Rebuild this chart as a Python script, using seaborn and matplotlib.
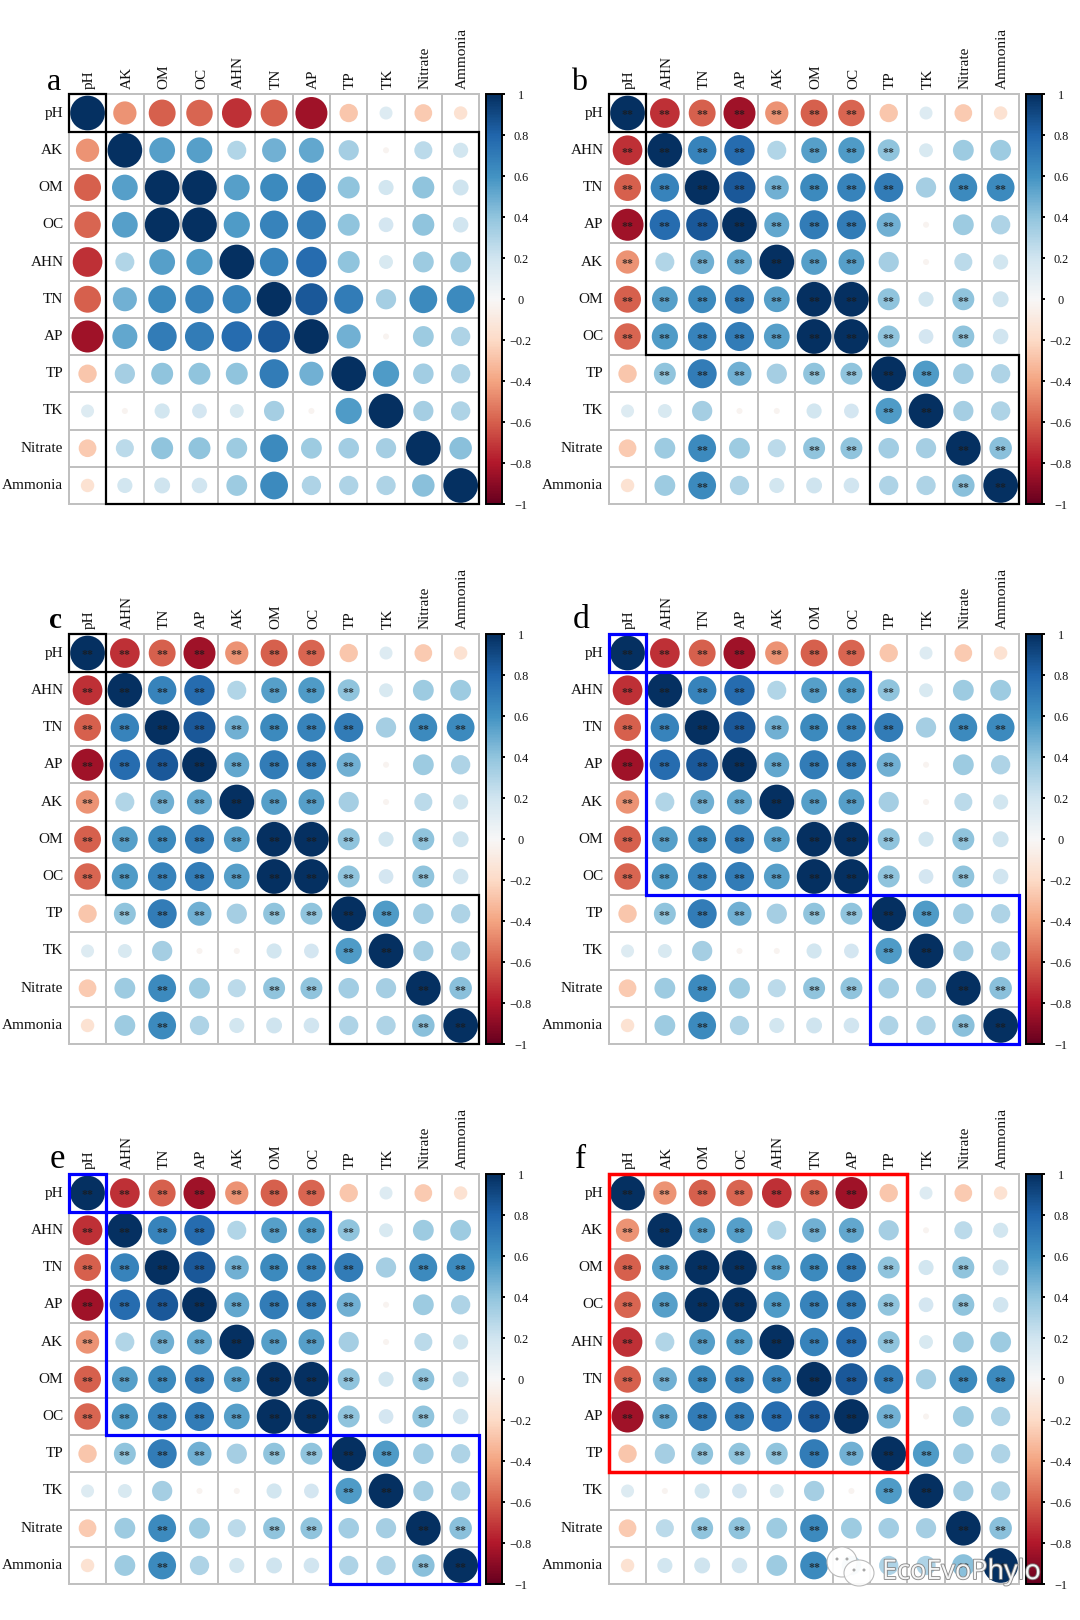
import numpy as np
import pandas as pd
import matplotlib
matplotlib.use('Agg')
import matplotlib.pyplot as plt
import matplotlib.patheffects as pe
from matplotlib import cm, colors
from matplotlib.patches import Rectangle, Ellipse
from matplotlib.transforms import ScaledTranslation
import seaborn as sns

sns.set_theme(style='white')
plt.rcParams['font.family'] = ['Liberation Serif', 'DejaVu Sans']

# 变量顺序
order_a = ['pH', 'AK', 'OM', 'OC', 'AHN', 'TN', 'AP', 'TP', 'TK', 'Nitrate', 'Ammonia']
order_b = ['pH', 'AHN', 'TN', 'AP', 'AK', 'OM', 'OC', 'TP', 'TK', 'Nitrate', 'Ammonia']

# correlation rows
r_pH = [1, -0.45, -0.60, -0.58, -0.73, -0.60, -0.85, -0.28, 0.14, -0.26, -0.15]
r_AK = [-0.45, 1, 0.55, 0.55, 0.30, 0.48, 0.52, 0.34, -0.03, 0.27, 0.19]
r_OM = [-0.60, 0.55, 1, 1, 0.55, 0.64, 0.70, 0.40, 0.19, 0.40, 0.21]
r_OC = [-0.58, 0.55, 1, 1, 0.57, 0.67, 0.70, 0.40, 0.18, 0.40, 0.20]
r_AHN = [-0.73, 0.30, 0.55, 0.57, 1, 0.67, 0.77, 0.40, 0.16, 0.36, 0.36]
r_TN = [-0.60, 0.48, 0.64, 0.67, 0.67, 1, 0.85, 0.70, 0.34, 0.64, 0.64]
r_AP = [-0.85, 0.52, 0.70, 0.70, 0.77, 0.85, 1, 0.48, -0.03, 0.36, 0.31]
r_TP = [-0.28, 0.34, 0.40, 0.40, 0.40, 0.70, 0.48, 1, 0.57, 0.35, 0.31]
r_TK = [0.14, -0.03, 0.19, 0.18, 0.16, 0.34, -0.03, 0.57, 1, 0.34, 0.31]
r_Nitrate = [-0.26, 0.27, 0.40, 0.40, 0.36, 0.64, 0.36, 0.35, 0.34, 1, 0.42]
r_Ammonia = [-0.15, 0.19, 0.21, 0.20, 0.36, 0.64, 0.31, 0.31, 0.31, 0.42, 1]

corr = pd.DataFrame([r_pH, r_AK, r_OM, r_OC, r_AHN, r_TN, r_AP, r_TP, r_TK, r_Nitrate, r_Ammonia],
                    index=order_a, columns=order_a)

# which cells carry **
sig_pH = ['pH', 'AK', 'OM', 'OC', 'AHN', 'TN', 'AP']
sig_AK = ['pH', 'AK', 'OM', 'OC', 'TN', 'AP']
sig_OM = ['pH', 'AK', 'OM', 'OC', 'AHN', 'TN', 'AP', 'TP', 'Nitrate']
sig_OC = ['pH', 'AK', 'OM', 'OC', 'AHN', 'TN', 'AP', 'TP', 'Nitrate']
sig_AHN = ['pH', 'OM', 'OC', 'AHN', 'TN', 'AP', 'TP']
sig_TN = ['pH', 'AK', 'OM', 'OC', 'AHN', 'TN', 'AP', 'TP', 'Nitrate', 'Ammonia']
sig_AP = ['pH', 'AK', 'OM', 'OC', 'AHN', 'TN', 'AP', 'TP']
sig_TP = ['OM', 'OC', 'AHN', 'TN', 'AP', 'TP', 'TK']
sig_TK = ['TP', 'TK']
sig_Nitrate = ['OM', 'OC', 'TN', 'Nitrate', 'Ammonia']
sig_Ammonia = ['TN', 'Nitrate', 'Ammonia']
sig = dict(zip(order_a, [sig_pH, sig_AK, sig_OM, sig_OC, sig_AHN, sig_TN, sig_AP,
                         sig_TP, sig_TK, sig_Nitrate, sig_Ammonia]))

cbar_ticks = [1, 0.8, 0.6, 0.4, 0.2, 0, -0.2, -0.4, -0.6, -0.8, -1]

# groups as (first cell, number of cells)
groups_a = [(0, 1), (1, 10)]
groups_b = [(0, 1), (1, 6), (7, 4)]
groups_f = [(0, 8)]

# letter, variable order, groups, box colour, box width, stars
panels = [
    ('a', order_a, groups_a, 'black', 1.6, False),
    ('b', order_b, groups_b, 'black', 1.6, True),
    ('c', order_b, groups_b, 'black', 1.6, True),
    ('d', order_b, groups_b, '#0000ff', 2.3, True),
    ('e', order_b, groups_b, '#0000ff', 2.3, True),
    ('f', order_a, groups_f, '#ff0000', 2.5, True),
]
# letter x, baseline y, size, weight inside a 540 px tile
letters = {'a': (47, 90, 23, 'normal'), 'b': (31, 90, 23, 'normal'), 'c': (49, 88, 21, 'bold'),
           'd': (33, 88, 24, 'normal'), 'e': (50, 88, 25, 'normal'), 'f': (35, 88, 24, 'normal')}

W, H = 1080, 1620
TILE = 540
GX0, GX1, GY0, GY1 = 68.9, 479.3, 94.4, 504.1
CX0, CX1 = 485.5, 502.0
S_MAX = 625  # area of a circle with |r| = 1, pt^2

cmap = sns.color_palette('RdBu', as_cmap=True)
white = colors.ListedColormap(['white'])
fig = plt.figure(figsize=(W / 100, H / 100), dpi=100)


def box(x0, x1, y0, y1):
    return [x0 / W, 1 - y1 / H, (x1 - x0) / W, (y1 - y0) / H]


for k, (letter, order, groups, box_col, box_lw, stars) in enumerate(panels):
    ox = TILE * (k % 2)
    oy = TILE * (k // 2)
    ax = fig.add_axes(box(ox + GX0, ox + GX1, oy + GY0, oy + GY1))

    sub = corr.loc[order, order]
    sns.heatmap(np.zeros(sub.shape), cmap=white, cbar=False, linewidths=1.1, linecolor='#c0c0c0', ax=ax)
    ax.collections[0].set_clip_on(False)

    long = sub.reset_index().melt(id_vars='index', var_name='col', value_name='r')
    long['x'] = long['col'].map(order.index) + 0.5
    long['y'] = long['index'].map(order.index) + 0.5
    long['size'] = long['r'].abs()
    sns.scatterplot(data=long, x='x', y='y', hue='r', size='size', hue_norm=(-1, 1), palette=cmap,
                    sizes=(0, S_MAX), size_norm=(0, 1), linewidth=0, legend=False, clip_on=False,
                    zorder=3, ax=ax)

    if stars:
        for row in order:
            for col in sig[row]:
                ax.annotate('**', (order.index(col) + 0.5, order.index(row) + 0.5), xytext=(0, -3.9),
                            textcoords='offset points', ha='center', va='baseline', fontsize=8.6,
                            fontweight='bold', color='#1a1a1a', alpha=0.8, zorder=4)

    for start, n in groups:
        ax.add_patch(Rectangle((start, start), n, n, fill=False, edgecolor=box_col, linewidth=box_lw,
                               joinstyle='miter', clip_on=False, zorder=5))

    ax.set_xlim(0, 11)
    ax.set_ylim(11, 0)
    ax.set_xlabel('')
    ax.set_ylabel('')
    ax.xaxis.tick_top()
    ax.set_xticks(np.arange(11) + 0.5, order, rotation=90, fontsize=11, color='#111111')
    ax.set_yticks(np.arange(11) + 0.5, order, rotation=0, fontsize=11, color='#111111')
    ax.tick_params(length=0, pad=4)
    # column labels sit a little right of the cell centres
    shift = ScaledTranslation(2 / 100, 0, fig.dpi_scale_trans)
    for t in ax.get_xticklabels():
        t.set_transform(t.get_transform() + shift)
    for s in ax.spines.values():
        s.set_visible(False)

    cax = fig.add_axes(box(ox + CX0, ox + CX1, oy + GY0, oy + GY1))
    cb = fig.colorbar(cm.ScalarMappable(colors.Normalize(-1, 1), cmap), cax=cax, ticks=cbar_ticks)
    cb.ax.set_yticklabels(['%g' % t if t >= 0 else '\u2212%g' % -t for t in cbar_ticks], ha='center', fontsize=8.8)
    cb.ax.tick_params(length=2, width=1.4, color='black', pad=11.5, labelcolor='#111111')
    cb.outline.set_linewidth(1.4)
    cb.outline.set_edgecolor('black')

# overlay in pixels for the letters and the watermark
top = fig.add_axes([0, 0, 1, 1], zorder=20)
top.set_xlim(0, W)
top.set_ylim(H, 0)
top.axis('off')
top.patch.set_alpha(0)

for k, (letter, *_) in enumerate(panels):
    x, y, size, weight = letters[letter]
    top.text(TILE * (k % 2) + x, TILE * (k // 2) + y, letter, fontsize=size, fontweight=weight,
             color='black', ha='left', va='baseline')

# 水印
for cx, cy, rx, ry in [(842, 1562, 15, 15), (859, 1573, 15, 13)]:
    top.add_patch(Ellipse((cx, cy), 2 * rx, 2 * ry, facecolor='white', edgecolor='#b5b5b5',
                          linewidth=0.8, alpha=0.92))
    for dx in (-5, 5):
        top.add_patch(Ellipse((cx + dx, cy - 3), 3, 3, facecolor='#a8a8a8', edgecolor='none'))
top.text(882, 1579, 'EcoEvoPhylo', fontsize=19.5, family='Open Sans', color='white', alpha=0.9,
         ha='left', va='baseline',
         path_effects=[pe.withStroke(linewidth=1.3, foreground='#808080')])

fig.savefig('out.png', dpi=100)
